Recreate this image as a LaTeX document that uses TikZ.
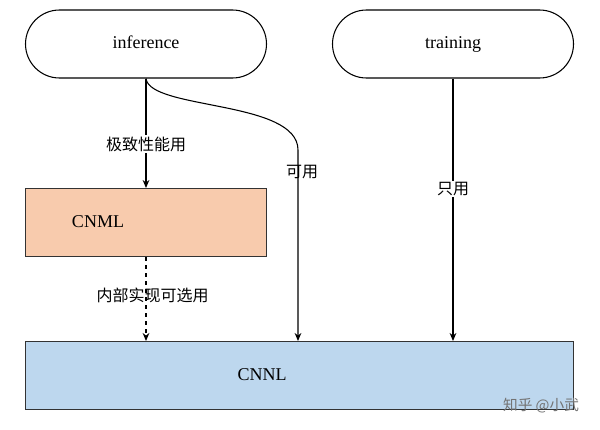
\documentclass[tikz,border=0pt]{standalone}
\usepackage{fontspec}
\setmainfont{Liberation Serif}
\newfontfamily\cjk{Noto Sans CJK SC}
\usetikzlibrary{arrows.meta}
\begin{document}
\begin{tikzpicture}[x=0.75pt,y=-0.75pt,
  stadium/.style={draw=black,line width=0.8pt,rounded corners=34*0.75pt,minimum width=241*0.75pt,minimum height=68*0.75pt,font=\fontsize{13.5}{15}\selectfont,text height=9pt,text depth=3pt},
  boxx/.style={draw=black!80,line width=0.8pt,anchor=north west,font=\fontsize{13}{15}\selectfont},
  lbl/.style={font=\cjk\fontsize{12}{14}\selectfont,fill=white,inner sep=1pt},
  arr/.style={-{Stealth[length=6pt,width=5pt]},line width=0.8pt}]
\useasboundingbox (0,0) rectangle (600,429);
\node[stadium] (inf) at (146,44) {inference};
\node[stadium] (tr) at (453,44) {training};
\node[boxx,fill={rgb,255:red,248;green,203;blue,173},minimum width=241*0.75pt,minimum height=68*0.75pt] (cnml) at (25,188) {};
\node[font=\fontsize{13.5}{15}\selectfont] at (98,222) {CNML};
\node[boxx,fill={rgb,255:red,189;green,215;blue,238},minimum width=548*0.75pt,minimum height=68*0.75pt] (cnnl) at (25,341) {};
\node[font=\fontsize{13.5}{15}\selectfont] at (262,375) {CNNL};
\coordinate (c1) at (298,341);
\draw[arr] (inf.south) -- (cnml.north -| inf.south) node[lbl,pos=0.6] {极致性能用};
\draw[arr] (inf.south) .. controls (150,110) and (298,100) .. (298,150) -- (c1);
\node[lbl,fill=none] at (302,172) {可用};
\draw[arr] (tr.south) -- (tr.south |- cnnl.north) node[lbl,pos=0.42] {只用};
\draw[arr,dashed] (cnml.south -| inf.south) -- (inf.south |- cnnl.north) node[lbl,pos=0.46,fill=none,xshift=5pt] {内部实现可选用};
\node[font=\cjk\fontsize{11}{13}\selectfont,text=black!55] (wm) at (541,406) {知乎 @小武};
\end{tikzpicture}
\end{document}
